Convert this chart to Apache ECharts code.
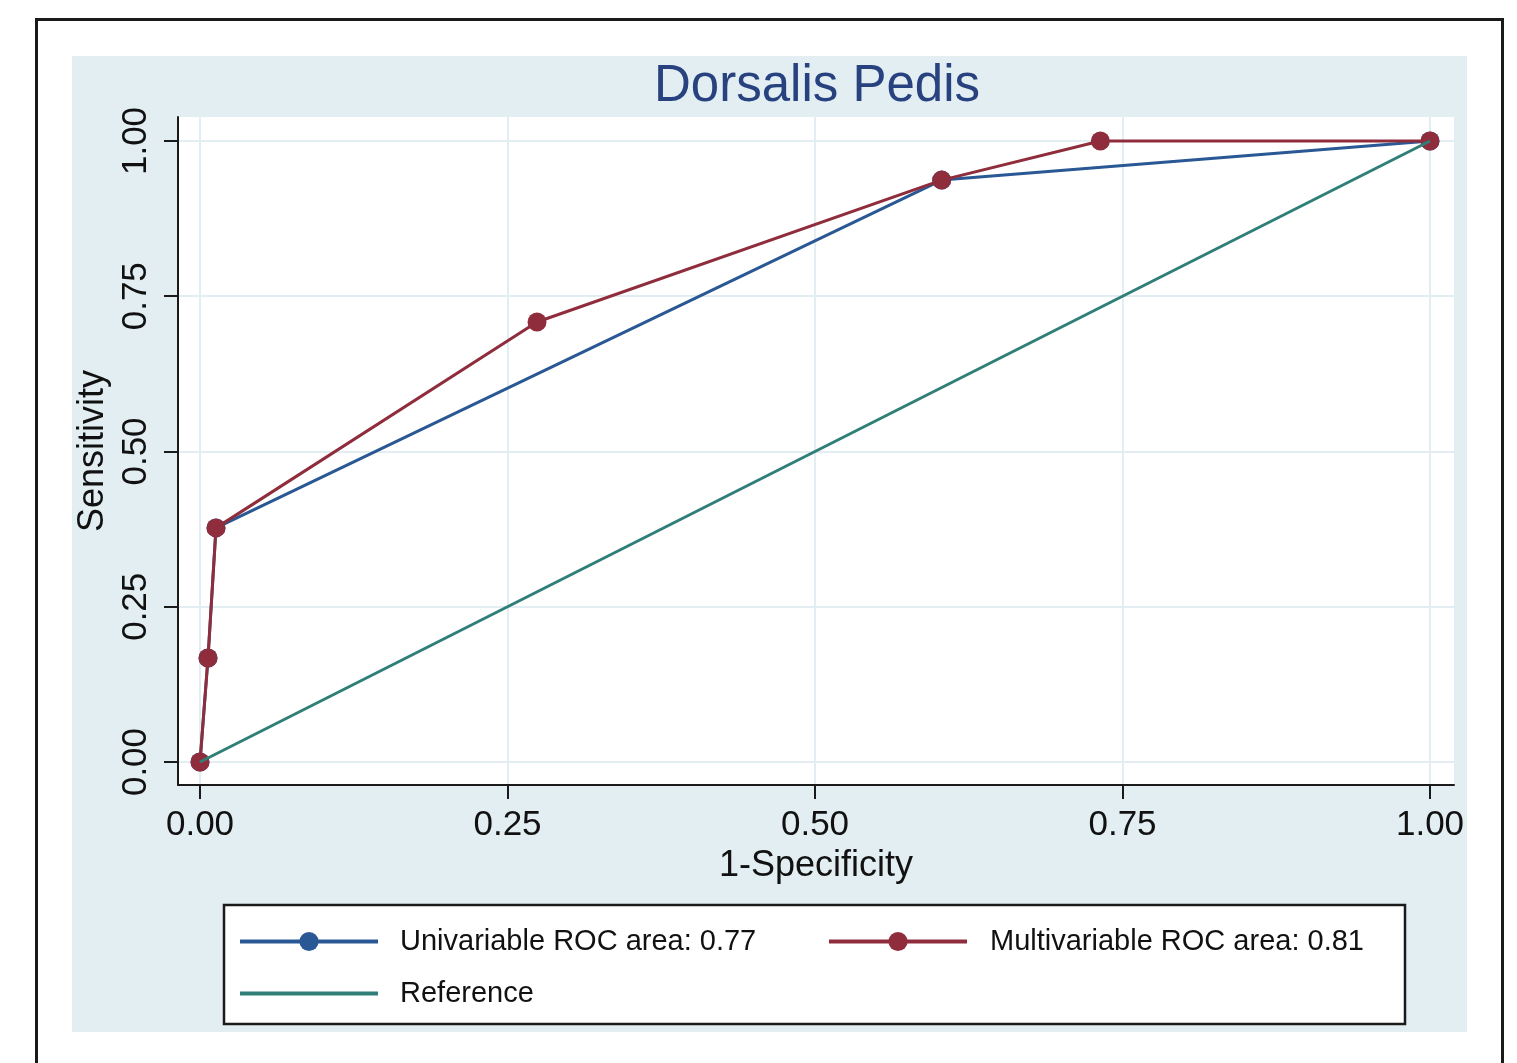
<!DOCTYPE html>
<html>
<head>
<meta charset="utf-8">
<script src="https://cdn.jsdelivr.net/npm/echarts@6/dist/echarts.min.js"></script>
<style>
html,body{margin:0;padding:0;background:#fff;}
#chart{width:1517px;height:1063px;}
</style>
</head>
<body>
<div id="chart"></div>
<script>
// ---- data ----
const titleText = 'Dorsalis Pedis';
const xName = '1-Specificity';
const yName = 'Sensitivity';
const tickValues = [0, 0.25, 0.5, 0.75, 1];
const uniName = 'Univariable ROC area: 0.77';
const multiName = 'Multivariable ROC area: 0.81';
const refName = 'Reference';
const uniX = [0, 0.0065, 0.013, 0.603, 1];
const uniY = [0, 0.1675, 0.377, 0.937, 1];
const multiX = [0, 0.0065, 0.013, 0.274, 0.603, 0.732, 1];
const multiY = [0, 0.1675, 0.377, 0.7085, 0.937, 1, 1];
const refX = [0, 1];
const refY = [0, 1];

const pair = (xs, ys) => xs.map((x, i) => [x, ys[i]]);

const BLUE = '#2a5894';
const RED = '#8f2d3c';
const TEAL = '#2f7f78';
const FONT = '"Liberation Sans", Arial, Helvetica, sans-serif';

const chart = echarts.init(document.getElementById('chart'));

const legendBase = {
  orient: 'horizontal',
  itemWidth: 138,
  itemHeight: 24,
  selectedMode: false,
  lineStyle: {width: 4},
  textStyle: {fontFamily: FONT, fontSize: 29, color: '#111', padding: [0, 0, 0, 17]}
};

chart.setOption({
  backgroundColor: '#ffffff',
  animation: false,
  title: {
    text: titleText,
    left: 812,
    top: 56,
    textAlign: 'center',
    textStyle: {fontFamily: FONT, fontSize: 51, fontWeight: 'normal', color: '#27427f'}
  },
  graphic: [
    {type: 'rect', z: -10, silent: true,
     shape: {x: 36.5, y: 19.5, width: 1466, height: 1080},
     style: {fill: '#ffffff', stroke: '#1a1a1a', lineWidth: 3}},
    {type: 'rect', z: -9, silent: true,
     shape: {x: 72, y: 56, width: 1395, height: 976},
     style: {fill: '#e3eef2'}},
    {type: 'rect', z: -8, silent: true,
     shape: {x: 224, y: 905, width: 1181, height: 119},
     style: {fill: '#ffffff', stroke: '#1a1a1a', lineWidth: 2.5}}
  ],
  legend: [
    Object.assign({}, legendBase, {data: [uniName], left: 233, top: 922}),
    Object.assign({}, legendBase, {data: [multiName], left: 822, top: 922,
      textStyle: Object.assign({}, legendBase.textStyle, {padding: [0, 0, 0, 18]})}),
    Object.assign({}, legendBase, {data: [refName], left: 233, top: 974,
      itemStyle: {opacity: 0}})
  ],
  grid: {
    left: 178, top: 117, right: 1517 - 1454, bottom: 1063 - 785,
    show: true, backgroundColor: '#ffffff', borderWidth: 0
  },
  xAxis: {
    type: 'value',
    min: -0.01789, max: 1.01951,
    name: xName, nameLocation: 'middle', nameGap: 60,
    nameTextStyle: {fontFamily: FONT, fontSize: 36, color: '#111', lineHeight: 36},
    axisLine: {show: true, onZero: false, lineStyle: {color: '#1a1a1a', width: 2}},
    axisTick: {show: true, customValues: tickValues, length: 14, inside: false, lineStyle: {color: '#1a1a1a', width: 2}},
    axisLabel: {customValues: tickValues, margin: 23, fontFamily: FONT, fontSize: 35, color: '#111',
      formatter: v => v.toFixed(2)},
    splitLine: {show: true, customValues: tickValues, lineStyle: {color: '#e3eef2', width: 2}}
  },
  yAxis: {
    type: 'value',
    min: -0.037, max: 1.0386,
    name: yName, nameLocation: 'middle', nameGap: 65, nameRotate: 90,
    nameTextStyle: {fontFamily: FONT, fontSize: 36, color: '#111', lineHeight: 36},
    axisLine: {show: true, onZero: false, lineStyle: {color: '#1a1a1a', width: 2}},
    axisTick: {show: true, customValues: tickValues, length: 14, inside: false, lineStyle: {color: '#1a1a1a', width: 2}},
    axisLabel: {customValues: tickValues, margin: 24, rotate: 90, fontFamily: FONT, fontSize: 35, color: '#111',
      formatter: v => v.toFixed(2)},
    splitLine: {show: true, customValues: tickValues, lineStyle: {color: '#e3eef2', width: 2}}
  },
  series: [
    {
      name: uniName, type: 'line', data: pair(uniX, uniY),
      symbol: 'circle', symbolSize: 19, showAllSymbol: true,
      lineStyle: {color: BLUE, width: 3}, itemStyle: {color: BLUE},
      z: 2
    },
    {
      name: multiName, type: 'line', data: pair(multiX, multiY),
      symbol: 'circle', symbolSize: 19, showAllSymbol: true,
      lineStyle: {color: RED, width: 3}, itemStyle: {color: RED},
      z: 3
    },
    {
      name: refName, type: 'line', data: pair(refX, refY),
      symbol: 'none',
      lineStyle: {color: TEAL, width: 3}, itemStyle: {color: TEAL},
      z: 4
    }
  ]
});
</script>
</body>
</html>
